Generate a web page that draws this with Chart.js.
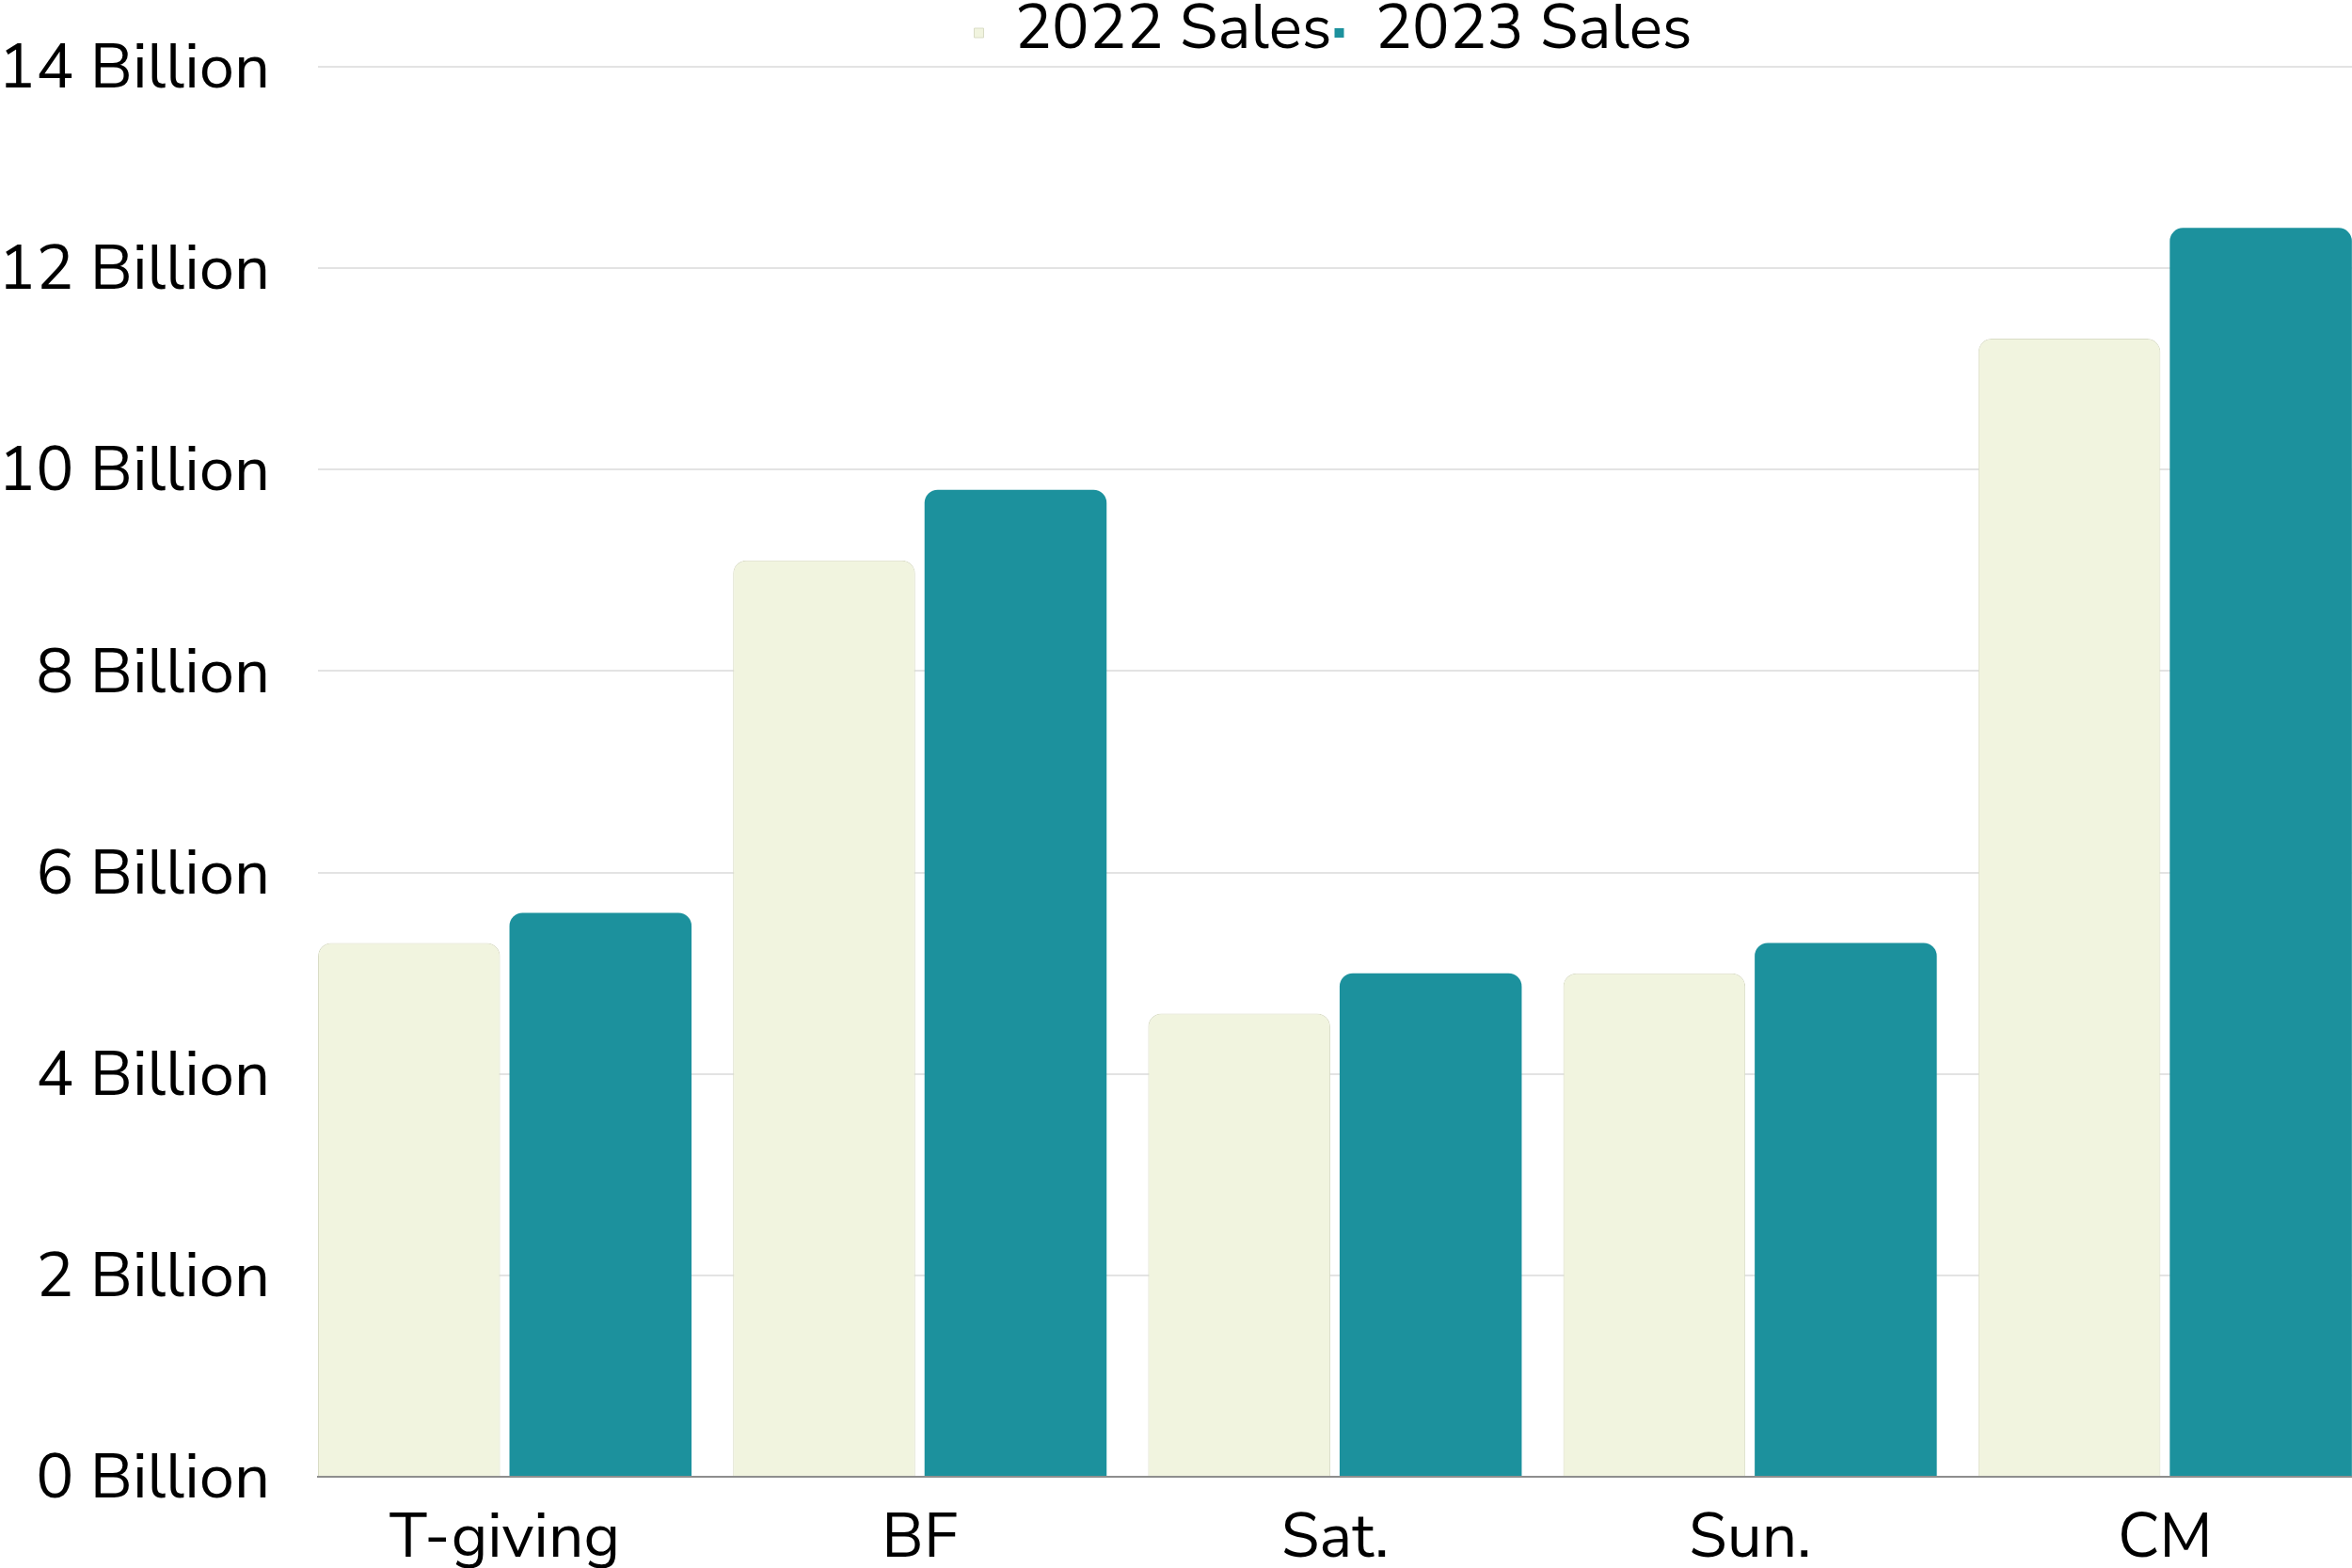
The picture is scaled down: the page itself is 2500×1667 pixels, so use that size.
<!DOCTYPE html>
<html>
<head>
<meta charset="utf-8">
<script src="https://cdn.jsdelivr.net/npm/chart.js@4/dist/chart.umd.min.js"></script>
<style>
  html, body { margin: 0; padding: 0; background: #ffffff; overflow: hidden; width: 2500px; height: 1667px; }
  #wrap { position: absolute; left: 0; top: -1px; width: 2834px; height: 1668px; }
</style>
</head>
<body>
<div id="wrap"><canvas id="c"></canvas></div>
<script>
const categories = ['T-giving', 'BF', 'Sat.', 'Sun.', 'CM'];
const sales2022 = [5.3, 9.1, 4.6, 5.0, 11.3];
const sales2023 = [5.6, 9.8, 5.0, 5.3, 12.4];
const seriesNames = ['2022 Sales', '2023 Sales'];
const yTickValues = [0, 2, 4, 6, 8, 10, 12, 14];
const yTickSuffix = ' Billion';

const FONT = { family: "'Nunito Sans', 'Open Sans', sans-serif", size: 66 };
const YFONT = { family: "'Nunito Sans', 'Open Sans', sans-serif", size: 67 };
const CANVAS_W = 2834;
const AXIS_LEFT = 338;
const PLOT_TOP = 72;
const CAT_SPACING = 441.2;
const X_MIN = -0.45;
const X_MAX = X_MIN + (CANVAS_W - AXIS_LEFT) / CAT_SPACING;

Chart.defaults.devicePixelRatio = 1;
Chart.defaults.color = '#000000';

new Chart(document.getElementById('c'), {
  type: 'bar',
  data: {
    datasets: [
      {
        label: seriesNames[0],
        data: sales2022.map((v, i) => ({ x: i, y: v })),
        backgroundColor: '#F1F4DF',
        borderColor: '#D9DCC6',
        borderWidth: 1,
        borderRadius: 14,
        borderSkipped: 'start',
        categoryPercentage: 0.9225,
        barPercentage: 0.951
      },
      {
        label: seriesNames[1],
        data: sales2023.map((v, i) => ({ x: i, y: v })),
        backgroundColor: '#1C919D',
        borderColor: '#1C919D',
        borderWidth: 0,
        borderRadius: 14,
        borderSkipped: 'start',
        categoryPercentage: 0.9225,
        barPercentage: 0.951
      }
    ]
  },
  options: {
    responsive: true,
    maintainAspectRatio: false,
    animation: false,
    layout: { padding: 0 },
    plugins: {
      tooltip: { enabled: false },
      legend: {
        display: true,
        position: 'top',
        align: 'center',
        maxHeight: PLOT_TOP,
        labels: {
          boxWidth: 10,
          boxHeight: 10,
          padding: 3,
          color: '#000000',
          font: FONT
        }
      }
    },
    scales: {
      x: {
        type: 'linear',
        min: X_MIN,
        max: X_MAX,
        offset: false,
        grid: { display: false, drawTicks: false },
        border: { display: true, color: '#8e8e8e', width: 2 },
        afterBuildTicks: (scale) => { scale.ticks = categories.map((c, i) => ({ value: i })); },
        afterFit: (scale) => { scale.height = 97; },
        ticks: {
          autoSkip: false,
          maxRotation: 0,
          minRotation: 0,
          padding: 29,
          color: '#000000',
          font: FONT,
          callback: (v) => categories[v]
        }
      },
      y: {
        min: 0,
        max: 14,
        afterBuildTicks: (scale) => { scale.ticks = yTickValues.map(v => ({ value: v })); },
        afterFit: (scale) => {
          scale.width = AXIS_LEFT;
          scale.paddingTop = PLOT_TOP;
          scale.paddingBottom = 0;
        },
        grid: {
          drawTicks: false,
          lineWidth: 2,
          color: (ctx) => (ctx.tick && ctx.tick.value === 0) ? 'rgba(0,0,0,0)' : '#E3E3E3'
        },
        border: { display: false },
        ticks: {
          padding: 51,
          labelOffset: 6,
          color: '#000000',
          font: YFONT,
          callback: (v) => v + yTickSuffix
        }
      }
    }
  }
});
</script>
</body>
</html>
